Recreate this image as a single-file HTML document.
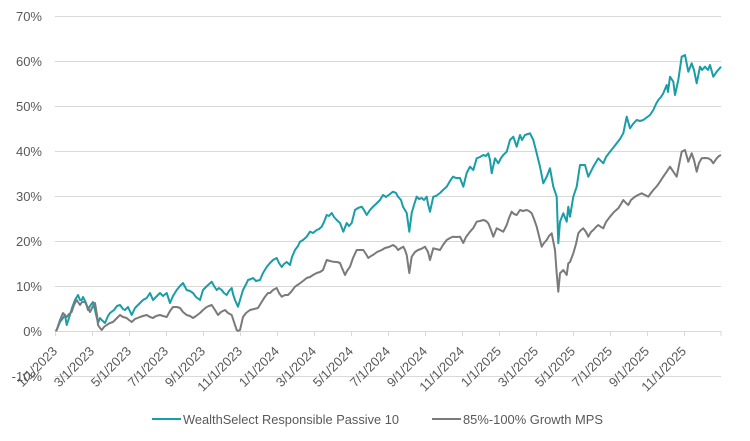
<!DOCTYPE html>
<html><head><meta charset="utf-8"><style>
html,body{margin:0;padding:0;background:#fff;}
svg{display:block;font-family:"Liberation Sans",sans-serif;}
</style></head><body>
<svg width="750" height="441" viewBox="0 0 750 441" xmlns="http://www.w3.org/2000/svg">
<rect width="750" height="441" fill="#fff"/>
<g stroke="#d9d9d9" stroke-width="1">
<line x1="55" y1="16.5" x2="721" y2="16.5"/>
<line x1="55" y1="61.5" x2="721" y2="61.5"/>
<line x1="55" y1="106.5" x2="721" y2="106.5"/>
<line x1="55" y1="151.5" x2="721" y2="151.5"/>
<line x1="55" y1="196.5" x2="721" y2="196.5"/>
<line x1="55" y1="241.5" x2="721" y2="241.5"/>
<line x1="55" y1="286.5" x2="721" y2="286.5"/>
<line x1="55" y1="376.5" x2="721" y2="376.5"/>
<line x1="55" y1="331.5" x2="721" y2="331.5"/>
<line x1="55.5" y1="331" x2="55.5" y2="336"/>
<line x1="92.5" y1="331" x2="92.5" y2="336"/>
<line x1="129.5" y1="331" x2="129.5" y2="336"/>
<line x1="166.5" y1="331" x2="166.5" y2="336"/>
<line x1="203.5" y1="331" x2="203.5" y2="336"/>
<line x1="240.5" y1="331" x2="240.5" y2="336"/>
<line x1="277.5" y1="331" x2="277.5" y2="336"/>
<line x1="314.5" y1="331" x2="314.5" y2="336"/>
<line x1="351.5" y1="331" x2="351.5" y2="336"/>
<line x1="388.5" y1="331" x2="388.5" y2="336"/>
<line x1="425.5" y1="331" x2="425.5" y2="336"/>
<line x1="462.5" y1="331" x2="462.5" y2="336"/>
<line x1="499.5" y1="331" x2="499.5" y2="336"/>
<line x1="536.5" y1="331" x2="536.5" y2="336"/>
<line x1="573.5" y1="331" x2="573.5" y2="336"/>
<line x1="610.5" y1="331" x2="610.5" y2="336"/>
<line x1="647.5" y1="331" x2="647.5" y2="336"/>
<line x1="684.5" y1="331" x2="684.5" y2="336"/>
<line x1="721" y1="331" x2="721" y2="336"/>
</g>
<g fill="#595959" font-size="13" text-anchor="end">
<text x="42" y="21">70%</text>
<text x="42" y="66">60%</text>
<text x="42" y="111">50%</text>
<text x="42" y="156">40%</text>
<text x="42" y="201">30%</text>
<text x="42" y="246">20%</text>
<text x="42" y="291">10%</text>
<text x="42" y="336">0%</text>
<text x="42" y="381">-10%</text>
</g>
<g fill="#595959" font-size="13" text-anchor="end">
<text transform="translate(58,352) rotate(-45)">1/1/2023</text>
<text transform="translate(95,352) rotate(-45)">3/1/2023</text>
<text transform="translate(132,352) rotate(-45)">5/1/2023</text>
<text transform="translate(169,352) rotate(-45)">7/1/2023</text>
<text transform="translate(206,352) rotate(-45)">9/1/2023</text>
<text transform="translate(243,352) rotate(-45)">11/1/2023</text>
<text transform="translate(280,352) rotate(-45)">1/1/2024</text>
<text transform="translate(317,352) rotate(-45)">3/1/2024</text>
<text transform="translate(354,352) rotate(-45)">5/1/2024</text>
<text transform="translate(391,352) rotate(-45)">7/1/2024</text>
<text transform="translate(428,352) rotate(-45)">9/1/2024</text>
<text transform="translate(465,352) rotate(-45)">11/1/2024</text>
<text transform="translate(502,352) rotate(-45)">1/1/2025</text>
<text transform="translate(539,352) rotate(-45)">3/1/2025</text>
<text transform="translate(576,352) rotate(-45)">5/1/2025</text>
<text transform="translate(613,352) rotate(-45)">7/1/2025</text>
<text transform="translate(650,352) rotate(-45)">9/1/2025</text>
<text transform="translate(687,352) rotate(-45)">11/1/2025</text>
</g>
<polyline fill="none" stroke="#1a9da6" stroke-width="2" stroke-linejoin="round" points="55.5,331 56.7,330 60,322 63,318 65,315 66.7,325 69,318 72,308 75,300 78,295 80,300 81.7,300 83,297 86,303 88,310 90,306 93,302 95,310 98,323 100,318 101.7,320 105,323 108,316 110,313 114,310 117,306 120,305 123,309 125,310 128,307 131.7,315 135,308 140,303 143,300 146.7,298 150,293 153,300 156,297 160,293 163,296 166.7,293 170,303 173,296 176.7,290 180,286 183,283 186.7,290 190,291 193,293 196,297 200,300 203,290 207,286 211.7,281.7 214,286 216.7,290 219,288 221.7,290 224,293 226.7,295 229,291 231.7,288 233,294 235,300 238,306.7 240,300 243,290 246.7,283 248,280 251,279 253,278 256,281 260,280 263,273 266.7,267 270,263 273,260 276.7,258 279,263 281.7,267 284,264 286.7,262 290,265 292,257 295,250 298,246 300,241.7 303,240 306.7,236.7 310,231.7 313,233 316.7,230 319,229 321.7,226.7 324,222 326.7,215 329,216 331.7,213 334,217 336.7,220 340,223 343.3,231.7 346.7,223 349,226 351.7,223 355,210 358,208 361.7,206.7 364,210 366.7,215 370,210 373,206.7 376,204 380,200 383,195 386,197 390,194 393,191.7 396,193 398,196.7 401,200 403,206.7 406.7,213 409.3,231.7 411.7,213 414,205 416.7,196.7 419,199 421.7,198 424,200 426.7,196.7 428,204 430,211.7 433.3,196.7 436,196 440,193 443,190 446.7,186.7 450,181 453,176.7 456,178 460,178 463.3,186.7 466.7,173 470,166.7 473.3,170 476.7,158.3 480,157 483.3,155 486,156 488.3,153.3 490,160 491.7,173.3 495,158.3 498.3,163.3 501,158 503.3,155 506.7,151.7 510,140 513.3,136.7 516.7,146.7 520,135 522,140 525,135 528,134 530,133.3 533.3,140 536.7,153.3 540,166.7 543.3,183.3 546.7,176.7 550,168.3 553.3,186.7 556.7,196.7 558.3,243.3 560,221.7 563.3,213.3 566.7,221.7 568.3,206.7 570,216.7 573.3,196.7 576.7,186.7 580,165 585,165 588.3,176.7 593.3,166.7 598.3,158.3 603.3,163.3 606,157 610,151.7 613,148 616.7,143.3 620,139 623.3,133.3 626.7,116.7 630,128.3 633,124 636.7,120 640,121 643.3,120 646,118 650,115 653.3,110 656,104 658.3,100 661,97 663.3,93.3 666.7,85 668,92 670,76.7 673.3,81.7 675,95 678.3,80 681.7,56.7 685,55 688.3,71.7 691.7,63.3 694,70 696.7,83.3 700,66.7 702,70 705,66.7 708,70 710,65 713.3,76.7 716.7,71.7 719,69 721,66.7"/>
<polyline fill="none" stroke="#7a7a7a" stroke-width="2" stroke-linejoin="round" points="55.5,331 56.7,330 60,320 63,313 66.7,317 69,314 71.7,312 74,305 76.7,300 80,305 82,302 85,302 87,306 90,312 93,306 95,303 97,315 98,325 100,328 101.7,330 104,327 106.7,325 110,323 113,322 117,318 120,315 123,317 126.7,318 129,320 131.7,322 135,319 140,317 143,316 146.7,315 150,317 153,318 156,316 160,315 163,316 166.7,317 170,311 173,307 177,307 180,308 183,312 186.7,315 190,316 193,318 196,316 200,313 203,310 206.7,307 209,306 211.7,305 215,310 218,315 221,312 225,310 228,313 231.7,315 234,322 236.7,330 238,331 240,330 243,317 246,313 250,310 254,309 258,308 261,303 265,296.7 268,293 270,293 273,290 276.7,288 279,293 281.7,296.7 285,295 288,295 291,292 295,286.7 299,284 303,281 306.7,278 310,277 313,275 316.7,273 320,272 323,270 326.7,260 330,261 333,261.7 337,262 340,263 342,268 345,275 347,271 350,266.7 353,258 356.7,250 360,250 363.3,250 366,254 368.3,258 371,256 373,255 377,252 381.7,250 385,248 389,247 393,245 396,247 398,250 401,248 403.3,246.7 405,250 406.7,255 409.3,273 411.7,256.7 415,252 418,250 421,249 425,246.7 428,252 430,260 433.3,248.3 436,249 440,250 443,245 446.7,240 450,238 453,236.7 456,237 460,236.7 463.3,243 466,237 470,231.7 473.3,228 476.7,221.7 480,221 483.3,220 486,221 488.3,223.3 491,230 493.3,236.7 496.7,228.3 500,230 503.3,231.7 506.7,225 509,218 511.7,211.7 514,214 516.7,215 520,210 523,211 526.7,210 529,211 531.7,213.3 534,219 536.7,226.7 539,236 541.7,246.7 544,243 546.7,240 549,236 551.7,233.3 553,240 555,250 556.7,273.3 558.3,291.7 560,273.3 563.3,270 566.7,275 568.3,263.3 570,262 573.3,253.3 576,244 578.3,233.3 581,230 583.3,228.3 586,232 588.3,236.7 591,232 593.3,230 596,227 598.3,225 601,227 603.3,228.3 606,222 610,216.7 614,212 618.3,208.3 621,204 623.3,200 626,203 628.3,205 631,200 635,196.7 638,195 641.7,193.3 645,195 648.3,196.7 651,193 653.3,190 657,186 660,181.7 663,177 666.7,171.7 670,166.7 673.3,171.7 676.7,176.7 679,165 681.7,151.7 685,150 688.3,161.7 691.7,153.3 694,160 696.7,171.7 699,163 701.7,158.3 705,158 708.3,158.3 711,160 713.3,163.3 716.7,158.3 719,156 721,155"/>
<line x1="152" y1="419" x2="181" y2="419" stroke="#1a9da6" stroke-width="2"/>
<text x="183" y="424" fill="#595959" font-size="13" textLength="216" lengthAdjust="spacingAndGlyphs">WealthSelect Responsible Passive 10</text>
<line x1="432" y1="419" x2="461" y2="419" stroke="#7a7a7a" stroke-width="2"/>
<text x="463" y="424" fill="#595959" font-size="13" textLength="140" lengthAdjust="spacingAndGlyphs">85%-100% Growth MPS</text>
</svg>
</body></html>
